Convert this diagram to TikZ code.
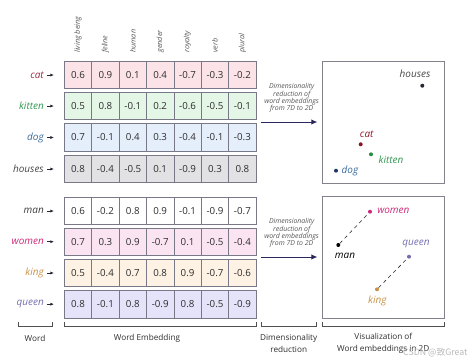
\documentclass[tikz,border=0pt]{standalone}
\usepackage{fontspec}
\setmainfont{Open Sans}
\newfontfamily\wmfont{Noto Sans CJK SC}
\usepackage{xcolor}
\usepackage{tikz}
\usetikzlibrary{arrows.meta, positioning, calc}
\definecolor{mydark}{RGB}{40,40,50}
\definecolor{mynavy}{RGB}{40,40,90}
\definecolor{cellline}{RGB}{120,120,135}
\definecolor{celltext}{RGB}{45,45,45}
\definecolor{hdrgray}{RGB}{85,85,85}
\definecolor{boxgray}{RGB}{130,130,140}
\definecolor{brgray}{RGB}{80,80,80}
\definecolor{wmgray}{RGB}{185,185,185}
\definecolor{fillcat}{RGB}{252,227,231}
\definecolor{fillkit}{RGB}{228,246,230}
\definecolor{filldog}{RGB}{229,239,251}
\definecolor{fillhou}{RGB}{226,226,228}
\definecolor{fillman}{RGB}{255,255,255}
\definecolor{fillwom}{RGB}{251,228,242}
\definecolor{fillking}{RGB}{253,242,227}
\definecolor{fillqueen}{RGB}{228,227,249}
\definecolor{txtcat}{RGB}{150,40,70}
\definecolor{txtkit}{RGB}{50,150,80}
\definecolor{txtdog}{RGB}{55,105,155}
\definecolor{txthou}{RGB}{70,70,70}
\definecolor{txtman}{RGB}{60,60,60}
\definecolor{txtwom}{RGB}{205,40,120}
\definecolor{txtking}{RGB}{200,145,70}
\definecolor{txtqueen}{RGB}{115,110,175}
\definecolor{dotcat}{RGB}{140,20,40}
\definecolor{dotkit}{RGB}{40,140,60}
\definecolor{dotdog}{RGB}{35,55,100}
\tikzset{
  cell/.style={rectangle, draw=cellline, minimum width=0.822cm,
    minimum height=0.825cm, inner sep=0pt, outer sep=0pt,
    font=\fontsize{8.3}{10}\selectfont, text=celltext, line width=0.5pt},
  wordlbl/.style={anchor=east, inner sep=0pt,
    font=\fontsize{8.5}{10}\selectfont\itshape},
  header/.style={rotate=90, anchor=west, inner sep=0pt,
    font=\fontsize{6.2}{7}\selectfont\itshape, text=hdrgray},
  wordarrow/.style={-{Latex[length=3pt,width=2.6pt]}, line width=0.6pt, color=mydark},
  bigarrow/.style={-{Latex[length=5pt,width=4.5pt]}, line width=0.7pt, color=mynavy},
  plotbox/.style={rectangle, draw=boxgray, line width=0.7pt,
    minimum width=3.64cm, minimum height=3.66cm, inner sep=0pt},
  ptdot/.style={circle, inner sep=0pt, minimum size=3.4pt},
  ptlbl/.style={inner sep=0pt, font=\fontsize{8.5}{10}\selectfont\itshape},
  pairline/.style={dashed, color=mydark, line width=0.5pt},
  bracket/.style={line width=0.6pt, color=brgray},
  caption/.style={align=center, inner sep=0pt,
    font=\fontsize{7}{9.6}\selectfont, text=celltext},
  note/.style={align=center, inner sep=0pt,
    font=\fontsize{5.9}{6.3}\selectfont\itshape, text=hdrgray}
}

\begin{document}
\begin{tikzpicture}[x=0.03cm, y=-0.03cm]
  \useasboundingbox (0,0) rectangle (474,363);

  % Column headers
  \foreach \h [count=\i] in {living being, feline, human, gender, royalty, verb, plural}
    \node[header] (h-\i) at ({64.3+27.4*(\i-0.5)}, 53) {\h};

  % Embedding rows
  \foreach \w/\yy/\bg/\fg/\vals in {
      cat/75/fillcat/txtcat/{0.6,0.9,0.1,0.4,-0.7,-0.3,-0.2},
      kitten/106/fillkit/txtkit/{0.5,0.8,-0.1,0.2,-0.6,-0.5,-0.1},
      dog/137.5/filldog/txtdog/{0.7,-0.1,0.4,0.3,-0.4,-0.1,-0.3},
      houses/169/fillhou/txthou/{0.8,-0.4,-0.5,0.1,-0.9,0.3,0.8},
      man/211/fillman/txtman/{0.6,-0.2,0.8,0.9,-0.1,-0.9,-0.7},
      women/241.7/fillwom/txtwom/{0.7,0.3,0.9,-0.7,0.1,-0.5,-0.4},
      king/273/fillking/txtking/{0.5,-0.4,0.7,0.8,0.9,-0.7,-0.6},
      queen/304.2/fillqueen/txtqueen/{0.8,-0.1,0.8,-0.9,0.8,-0.5,-0.9}} {
    \node[wordlbl, text=\fg] (w-\w) at (44,\yy) {\w};
    \foreach \v [count=\i] in \vals
      \node[cell, fill=\bg] (\w-\i) at ({64.3+27.4*(\i-0.5)}, \yy) {\v};
    \draw[wordarrow, shorten <=0.09cm, shorten >=0.31cm] (w-\w.east) -- (\w-1.west);
  }

  % 2D plots
  \node[plotbox] (plot-a) at (383.4,122) {};
  \node[plotbox] (plot-b) at (383.4,257) {};

  % Reduction arrows
  \coordinate (red-a) at (261,122);
  \coordinate (red-b) at (261,257);
  \draw[bigarrow, shorten >=0.15cm] (red-a) -- (plot-a.west)
    node[note, midway, above=0.27cm] (note-a) {Dimensionality\\reduction of\\word embeddings\\from 7D to 2D};
  \draw[bigarrow, shorten >=0.15cm] (red-b) -- (plot-b.west)
    node[note, midway, above=0.27cm] (note-b) {Dimensionality\\reduction of\\word embeddings\\from 7D to 2D};

  % Points, top plot
  \node[ptdot, fill=mydark] (p-houses) at (422.3,85.7) {};
  \node[ptlbl, text=txthou] (l-houses) at (415,74) {houses};
  \node[ptdot, fill=dotcat] (p-cat) at (360.7,144.3) {};
  \node[ptlbl, text=dotcat] (l-cat) at (366.7,134) {cat};
  \node[ptdot, fill=dotkit] (p-kitten) at (371,154.3) {};
  \node[ptlbl, text=txtkit] (l-kitten) at (391,159.3) {kitten};
  \node[ptdot, fill=dotdog] (p-dog) at (336,170.7) {};
  \node[ptlbl, text=txtdog] (l-dog) at (350,170.7) {dog};

  % Points, bottom plot
  \node[ptdot, fill=txtwom] (p-women) at (370,211.7) {};
  \node[ptlbl, text=txtwom] (l-women) at (393.3,210.7) {women};
  \node[ptdot, fill=black] (p-man) at (338.3,245) {};
  \node[ptlbl, text=black] (l-man) at (345,256) {man};
  \node[ptdot, fill=txtqueen] (p-queen) at (409,256.7) {};
  \node[ptlbl, text=txtqueen] (l-queen) at (416,244.3) {queen};
  \node[ptdot, fill=txtking] (p-king) at (377,289.3) {};
  \node[ptlbl, text=txtking] (l-king) at (377.3,300.7) {king};
  \draw[pairline] (p-man) -- (p-women);
  \draw[pairline] (p-king) -- (p-queen);

  % Brackets and captions
  \draw[bracket] (18.3,321.7) -- (18.3,326) -- (52.7,326) -- (52.7,321.7);
  \draw[bracket] (64.3,321.7) -- (64.3,326) -- (256,326) -- (256,321.7);
  \draw[bracket] (261,321.7) -- (261,326) -- (316,326) -- (316,321.7);
  \draw[bracket] (322,321.7) -- (322,326) -- (444.3,326) -- (444.3,321.7);
  \node[caption] (cap-word) at (35,338) {Word};
  \node[caption] (cap-emb) at (147,338) {Word Embedding};
  \node[caption] (cap-dim) at (288.7,343.3) {Dimensionality\\reduction};
  \node[caption] (cap-vis) at (383.3,343.3) {Visualization of\\Word embeddings in 2D};
  \node[anchor=west, inner sep=0pt, text=wmgray, font=\wmfont\fontsize{7.5}{9}\selectfont] (wm) at (403,352.7) {CSDN @致Great};
\end{tikzpicture}
\end{document}
